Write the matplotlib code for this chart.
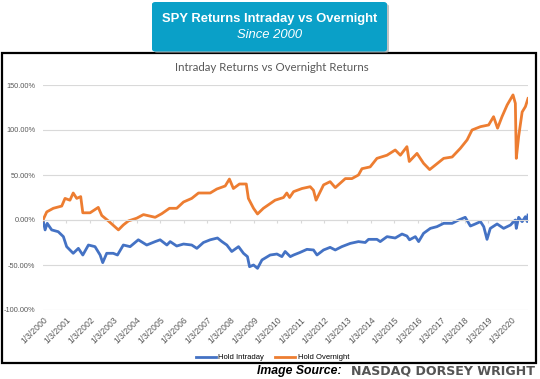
import matplotlib
matplotlib.use("Agg")
import matplotlib.pyplot as plt
from matplotlib.patches import FancyBboxPatch, Rectangle

# ---- data (decimal years, cumulative return in %) ----
overnight_t = [2000.00, 2000.16, 2000.44, 2000.80, 2000.94, 2001.15, 2001.29, 2001.44, 2001.61, 2001.70,
               2002.01, 2002.36, 2002.51, 2002.79, 2003.22, 2003.43, 2003.65, 2004.00, 2004.29, 2004.79,
               2005.07, 2005.40, 2005.71, 2006.00, 2006.35, 2006.64, 2007.14, 2007.42, 2007.78, 2007.96,
               2008.13, 2008.39, 2008.68, 2008.77, 2008.99, 2009.16, 2009.41, 2009.91, 2010.27, 2010.41,
               2010.53, 2010.70, 2011.06, 2011.41, 2011.55, 2011.66, 2011.98, 2012.26, 2012.48, 2012.91,
               2013.19, 2013.47, 2013.62, 2013.97, 2014.26, 2014.69, 2015.04, 2015.26, 2015.54, 2015.64,
               2015.97, 2016.25, 2016.51, 2016.75, 2017.11, 2017.47, 2017.82, 2018.11, 2018.32, 2018.68,
               2019.03, 2019.24, 2019.41, 2019.60, 2019.82, 2020.07, 2020.17, 2020.21, 2020.31, 2020.46,
               2020.60, 2020.71]
overnight_v = [0.0, 9.0, 13.0, 15.5, 24.0, 22.0, 30.0, 24.0, 26.0, 8.0,
               8.0, 14.0, 5.0, -1.0, -11.0, -5.5, -1.0, 2.0, 6.0, 3.0,
               7.0, 13.0, 13.0, 20.0, 24.0, 30.0, 30.0, 34.4, 37.8, 45.5,
               35.0, 40.0, 40.0, 24.0, 13.0, 6.7, 13.0, 22.0, 25.0, 30.0,
               25.0, 31.5, 35.0, 37.0, 33.0, 22.0, 39.0, 42.6, 36.0, 46.0,
               46.0, 50.0, 57.0, 59.0, 68.5, 72.0, 77.8, 72.0, 81.5, 65.0,
               74.0, 63.0, 56.0, 61.0, 68.5, 70.0, 79.6, 89.0, 100.0, 103.7,
               105.6, 114.8, 102.0, 114.8, 127.8, 139.0, 129.6, 68.5, 92.6, 120.0,
               126.0, 135.0]

intraday_t = [2000.00, 2000.09, 2000.18, 2000.37, 2000.65, 2000.87, 2001.01, 2001.29, 2001.51, 2001.70,
              2001.94, 2002.22, 2002.44, 2002.55, 2002.72, 2003.00, 2003.18, 2003.43, 2003.72, 2004.07,
              2004.43, 2004.79, 2005.00, 2005.29, 2005.43, 2005.71, 2006.00, 2006.35, 2006.57, 2006.85,
              2007.14, 2007.45, 2007.64, 2007.85, 2008.06, 2008.35, 2008.56, 2008.73, 2008.82, 2008.99,
              2009.16, 2009.35, 2009.70, 2009.99, 2010.20, 2010.34, 2010.56, 2010.70, 2010.98, 2011.27,
              2011.55, 2011.70, 2011.98, 2012.26, 2012.48, 2012.76, 2013.12, 2013.47, 2013.76, 2013.90,
              2014.26, 2014.40, 2014.69, 2015.04, 2015.33, 2015.54, 2015.65, 2015.90, 2016.04, 2016.25,
              2016.54, 2016.82, 2017.11, 2017.47, 2017.75, 2018.03, 2018.25, 2018.46, 2018.68, 2018.82,
              2018.96, 2019.10, 2019.39, 2019.67, 2019.96, 2020.17, 2020.21, 2020.31, 2020.46, 2020.60,
              2020.68, 2020.71]
intraday_v = [0.0, -11.0, -3.7, -11.0, -13.0, -18.5, -29.6, -37.0, -31.5, -38.9,
              -27.8, -29.6, -38.9, -47.4, -37.0, -37.0, -38.9, -27.8, -29.6, -22.0,
              -27.8, -24.0, -22.0, -27.8, -24.0, -28.9, -26.7, -27.8, -31.5, -25.0,
              -22.0, -20.0, -24.0, -27.8, -35.0, -29.6, -37.0, -40.7, -51.9, -50.0,
              -53.7, -44.4, -38.9, -37.8, -40.7, -35.0, -40.7, -38.9, -36.0, -32.6,
              -33.3, -38.9, -33.3, -30.4, -33.3, -29.6, -26.0, -24.0, -25.0, -21.5,
              -21.5, -24.0, -18.5, -20.0, -15.6, -17.8, -22.0, -18.5, -24.0, -14.8,
              -9.3, -7.4, -3.7, -3.7, 0.0, 3.0, -6.7, -4.4, -1.8, -7.4,
              -21.5, -9.3, -4.4, -9.3, -5.6, 0.0, -9.3, 3.0, -1.8, 3.7,
              -1.8, 5.5]

years = list(range(2000, 2021))
tick_labels = [f"1/3/{y}" for y in years]
y_ticks = [-100, -50, 0, 50, 100, 150]
y_labels = ["-100.00%", "-50.00%", "0.00%", "50.00%", "100.00%", "150.00%"]
series_names = ["Hold Intraday", "Hold Overnight"]
colors = ["#4472c4", "#ed7d31"]

W, H = 540, 379
fig = plt.figure(figsize=(W / 100, H / 100), dpi=100)
fig.patch.set_facecolor("white")

def fx(x):
    return x / W

def fy(y):
    return 1 - y / H

# outer chart frame
fig.patches.append(Rectangle((fx(1.5), fy(363)), fx(534), (363 - 53) / H,
                             transform=fig.transFigure, fill=False,
                             edgecolor="black", linewidth=1.6, zorder=1))

# title box with shadow
fig.patches.append(FancyBboxPatch((fx(154), fy(53)), fx(235), 49 / H,
                                  boxstyle="round,pad=0,rounding_size=0.006",
                                  transform=fig.transFigure, facecolor="#9a9a9a",
                                  edgecolor="none", alpha=0.6, zorder=2))
fig.patches.append(FancyBboxPatch((fx(152), fy(51.5)), fx(235), 49.5 / H,
                                  boxstyle="round,pad=0,rounding_size=0.006",
                                  transform=fig.transFigure, facecolor="#0aa0c8",
                                  edgecolor="none", zorder=3))
fig.text(fx(269.5), fy(19), "SPY Returns Intraday vs Overnight", color="white",
         fontsize=9.4, fontweight="bold", family="Liberation Sans",
         ha="center", va="center", zorder=4)
fig.text(fx(269.5), fy(34.5), "Since 2000", color="white", fontsize=9.4,
         style="italic", family="Liberation Sans", ha="center", va="center", zorder=4)

# axes
ax = fig.add_axes([fx(43), fy(310), fx(528 - 43), (310 - 85) / H])
ax.plot(intraday_t, intraday_v, color=colors[0], lw=2.0, label=series_names[0],
        solid_joinstyle="round")
ax.plot(overnight_t, overnight_v, color=colors[1], lw=2.0, label=series_names[1],
        solid_joinstyle="round")
ax.set_xlim(2000, overnight_t[-1])
ax.set_ylim(-100, 150)
ax.set_yticks(y_ticks)
ax.set_yticklabels(y_labels)
ax.tick_params(axis="y", length=0, labelsize=5.3, labelcolor="#595959", pad=5.5)
for lab in ax.get_yticklabels():
    lab.set_family("Liberation Sans")
ax.yaxis.grid(True, color="#d9d9d9", lw=0.8)
ax.set_axisbelow(True)
for s in ["top", "right", "left"]:
    ax.spines[s].set_visible(False)
ax.spines["bottom"].set_position(("data", 0))
ax.spines["bottom"].set_color("#d9d9d9")
ax.spines["bottom"].set_linewidth(0.8)
ax.set_xticks(years)
ax.set_xticklabels([])
ax.tick_params(axis="x", direction="out", length=2.5, color="#d9d9d9", width=0.8)

sec = ax.secondary_xaxis(0.0)
sec.set_xticks(years)
sec.set_xticklabels(tick_labels, rotation=45, ha="right", va="top",
                    rotation_mode="anchor", fontsize=6.2, color="#595959",
                    family="Liberation Sans")
sec.tick_params(axis="x", length=0, pad=4)
sec.spines["bottom"].set_visible(False)

fig.text(fx(271.5), fy(67.5), "Intraday Returns vs Overnight Returns", fontsize=8.3,
         color="#595959", family="Lato", ha="center", va="center")

fig.legend(loc="center", bbox_to_anchor=(fx(272.5), fy(357.5)), ncol=2,
           frameon=False, handlelength=2.6, handletextpad=0.3,
           columnspacing=1.5, prop={"family": "Liberation Sans", "size": 5.5})

# image source
fig.text(fx(342), fy(371), "Image Source:", fontsize=8.8, fontweight="bold",
         style="italic", family="Liberation Sans", color="black", ha="right", va="center")
fig.text(fx(535), fy(371), "NASDAQ DORSEY WRIGHT", fontsize=9.1, fontweight="bold",
         family="DejaVu Sans", color="#555555", ha="right", va="center")

fig.savefig("out.png", dpi=100)
